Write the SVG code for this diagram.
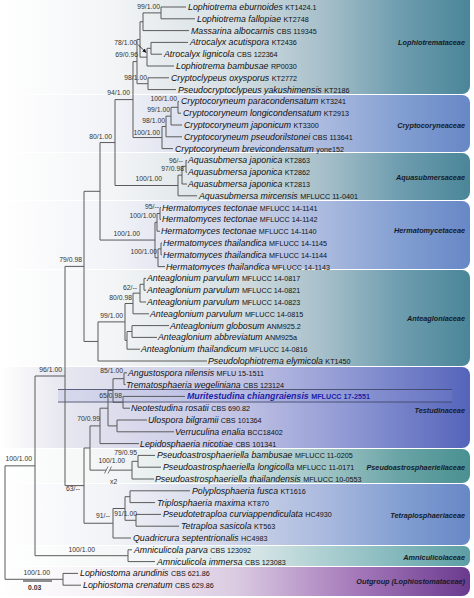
<svg xmlns="http://www.w3.org/2000/svg" width="474" height="598" viewBox="0 0 474 598">
<defs>
<linearGradient id="gTeal" gradientUnits="userSpaceOnUse" x1="0" y1="0" x2="470" y2="0">
<stop offset="0" stop-color="#ffffff"/><stop offset="0.25" stop-color="#f2f4f5"/><stop offset="0.5" stop-color="#d5dfe3"/><stop offset="0.7" stop-color="#a3bdc8"/><stop offset="0.85" stop-color="#6e9daf"/><stop offset="1" stop-color="#4a8698"/>
</linearGradient>
<linearGradient id="gBlue" gradientUnits="userSpaceOnUse" x1="0" y1="0" x2="470" y2="0">
<stop offset="0" stop-color="#ffffff"/><stop offset="0.25" stop-color="#f1f2f7"/><stop offset="0.5" stop-color="#cdd4e8"/><stop offset="0.7" stop-color="#a8b8de"/><stop offset="0.85" stop-color="#839fd2"/><stop offset="1" stop-color="#6787c6"/>
</linearGradient>
<linearGradient id="gTestu" gradientUnits="userSpaceOnUse" x1="0" y1="0" x2="470" y2="0">
<stop offset="0" stop-color="#ffffff"/><stop offset="0.12" stop-color="#e9e9f1"/><stop offset="0.5" stop-color="#c3c4e5"/><stop offset="0.75" stop-color="#8d97d3"/><stop offset="1" stop-color="#5464ba"/>
</linearGradient>
<linearGradient id="gGreen" gradientUnits="userSpaceOnUse" x1="0" y1="0" x2="470" y2="0">
<stop offset="0" stop-color="#ffffff"/><stop offset="0.25" stop-color="#f2f5f5"/><stop offset="0.5" stop-color="#d2e1e1"/><stop offset="0.7" stop-color="#9cc2c3"/><stop offset="0.85" stop-color="#6aa4a6"/><stop offset="1" stop-color="#4a9092"/>
</linearGradient>
<linearGradient id="gAmni" gradientUnits="userSpaceOnUse" x1="0" y1="0" x2="470" y2="0">
<stop offset="0" stop-color="#ffffff"/><stop offset="0.3" stop-color="#f3f6f6"/><stop offset="0.55" stop-color="#d4e4e5"/><stop offset="0.8" stop-color="#8fbfc2"/><stop offset="1" stop-color="#5c9ea4"/>
</linearGradient>
<linearGradient id="gOut" gradientUnits="userSpaceOnUse" x1="0" y1="0" x2="470" y2="0">
<stop offset="0" stop-color="#ffffff"/><stop offset="0.25" stop-color="#f3eff5"/><stop offset="0.5" stop-color="#dbcbe2"/><stop offset="0.75" stop-color="#a67bbb"/><stop offset="1" stop-color="#6b3a8f"/>
</linearGradient>
<marker id="arr" viewBox="0 0 10 10" refX="9" refY="5" markerWidth="5" markerHeight="5" orient="auto"><path d="M0,0L10,5L0,10z" fill="#111"/></marker>
<style>
.sp{font-family:"Liberation Sans",Arial,sans-serif;font-size:8.8px;font-style:italic;fill:#111}
.st{font-style:normal;font-size:7.2px}
.bs{font-family:"Liberation Sans",Arial,sans-serif;font-size:6.8px;fill:#333}
.bsr{font-family:"Liberation Sans",Arial,sans-serif;font-size:6.8px;fill:#333;text-anchor:end}
.fam{font-family:"Liberation Sans",Arial,sans-serif;font-size:7.3px;font-weight:bold;font-style:italic;fill:#141a2a;text-anchor:end}
.tree{fill:none;stroke:#5a5a5a;stroke-width:1}
.mu{font-weight:bold;fill:#1c22a8}
</style>
</defs>
<rect width="474" height="598" fill="#ffffff"/>
<g id="bands">
<rect x="-20" y="-10" width="490" height="104" rx="8" fill="url(#gTeal)"/>
<rect x="-20" y="95" width="490" height="57" rx="8" fill="url(#gBlue)"/>
<rect x="-20" y="153" width="490" height="47" rx="8" fill="url(#gTeal)"/>
<rect x="-20" y="201" width="490" height="68" rx="8" fill="url(#gBlue)"/>
<rect x="-20" y="270" width="490" height="96" rx="8" fill="url(#gTeal)"/>
<rect x="-20" y="367" width="490" height="81" rx="8" fill="url(#gTestu)"/>
<rect x="-20" y="449" width="490" height="34" rx="8" fill="url(#gGreen)"/>
<rect x="-20" y="484" width="490" height="61" rx="8" fill="url(#gBlue)"/>
<rect x="-20" y="546" width="490" height="20" rx="6" fill="url(#gAmni)"/>
<rect x="-20" y="567" width="490" height="29" rx="8" fill="url(#gOut)"/>
</g>
<g id="highlight">
<rect x="58" y="389.5" width="394" height="12.5" fill="#8a93d6" fill-opacity="0.18"/>
<path d="M58,389.5H452M58,402H452" stroke="#3a3f60" stroke-width="0.8" fill="none"/>
</g>
<g id="connectors" class="tree">
<path d="M161,7V18.8M161,7H186M161,18.8H195
M143,12.9V30.6M143,12.9H161M143,30.6H189
M151,42.4V54.2M151,42.4H188M151,54.2H162
M147,48.3V66M147,48.3H151M147,66H174
M140,21.75V57.15M140,21.75H143M140,57.15H147
M148,77.8V89.6M148,77.8H169M148,89.6H176
M137,39.45V83.7M137,39.45H140M137,83.7H148
M178,101.4V113.2M178,101.4H179M178,113.2H181
M171,107.3V125M171,107.3H178M171,125H182
M166,116.15V136.8M166,116.15H171M166,136.8H182
M162,126.5V148.6M162,126.5H166M162,148.6H173
M133,61.6V137.55M133,61.6H137M133,137.55H162
M186,160.4V172.2M186,160.4H187M186,172.2H187
M182,166.3V184M182,166.3H186M182,184H187
M178,175.15V195.8M178,175.15H182M178,195.8H197
M115,99.6V185.5M115,99.6H133M115,185.5H178
M160,207.6V219.4M160,207.6H161M160,219.4H161
M157,213.5V231.2M157,213.5H160M157,231.2H160
M161,243V254.8M161,243H162M161,254.8H162
M158,248.9V266.6M158,248.9H161M158,266.6H165
M155,222.35V257.75M155,222.35H157M155,257.75H158
M100,142.55V240.05M100,142.55H115M100,240.05H155
M144,278.4V290.2M144,278.4H146M144,290.2H146
M140,284.3V302M140,284.3H144M140,302H146
M133,293.15V313.8M133,293.15H140M133,313.8H149
M132,325.6V337.4M132,325.6H169M132,337.4H157
M127,331.5V349.2M127,331.5H132M127,349.2H140
M125,303.5V340.35M125,303.5H133M125,340.35H127
M98,321.9V361M98,321.9H125M98,361H207
M84,191.3V341.45M84,191.3H100M84,341.45H98
M124,372.8V384.6M124,372.8H127M124,384.6H125.5
M123,396.4V408.2M123,396.4H185M123,408.2H130
M113,378.7V402.3M113,378.7H124M113,402.3H123
M117,420V431.8M117,420H147M117,431.8H174
M108,390.5V425.9M108,390.5H113M108,425.9H117
M100,408.2V443.6M100,408.2H108M100,443.6H139
M138,455.4V467.2M138,455.4H155M138,467.2H161
M132,461.3V479M132,461.3H138M132,479H154
M90,425.9V470.15M90,425.9H100M90,470.15H106M110,470.15H132
M130,490.8V502.6M130,490.8H190M130,502.6H155
M136,514.4V526.2M136,514.4H161M136,526.2H179
M125,496.7V520.3M125,496.7H130M125,520.3H136
M113,508.5V538M113,508.5H125M113,538H131
M84,448V523.25M84,448H90M84,523.25H113
M65,266.4V485.6M65,266.4H84M65,485.6H84
M128,549.8V561.6M128,549.8H132M128,561.6H155
M35,376V555.7M35,376H65M35,555.7H128
M63,573.4V585.2M63,573.4H78M63,585.2H81
M5,465.85V579.3M5,465.85H35M5,579.3H63"/>
<path d="M104.5,473.5L108,466.5M108,473.5L111.5,466.5" stroke-width="0.8"/>
<path d="M138,44.5L146,52.5" stroke="#111" stroke-width="0.8" marker-end="url(#arr)"/>
<path d="M23,581H52" stroke="#222" stroke-width="1"/>
</g>
<g id="support">
<text class="bsr" x="160" y="9">99/1.00</text>
<text class="bsr" x="137" y="45">78/1.00</text>
<text class="bsr" x="138" y="57">69/0.96</text>
<text class="bsr" x="147" y="80">98/1.00</text>
<text class="bsr" x="130" y="95">94/1.00</text>
<text class="bsr" x="177" y="101">100/1.00</text>
<text class="bsr" x="170" y="112">99/1.00</text>
<text class="bsr" x="165" y="123">98/1.00</text>
<text class="bsr" x="160" y="135">100/1.00</text>
<text class="bsr" x="112" y="139">80/1.00</text>
<text class="bsr" x="183" y="163">96/--</text>
<text class="bsr" x="184" y="171">97/0.98</text>
<text class="bsr" x="162" y="181">100/1.00</text>
<text class="bsr" x="159" y="209">95/--</text>
<text class="bsr" x="156" y="218">100/1.00</text>
<text class="bsr" x="140" y="236">100/1.00</text>
<text class="bsr" x="157" y="254">100/1.00</text>
<text class="bsr" x="82" y="262">79/0.98</text>
<text class="bsr" x="137" y="290">62/--</text>
<text class="bsr" x="132" y="300">80/0.98</text>
<text class="bsr" x="123" y="318">99/1.00</text>
<text class="bsr" x="62" y="372">96/1.00</text>
<text class="bsr" x="123" y="373">85/1.00</text>
<text class="bsr" x="122" y="398">65/0.98</text>
<text class="bsr" x="100" y="421">70/0.99</text>
<text class="bsr" x="137" y="455">79/0.95</text>
<text class="bsr" x="32" y="461">100/1.00</text>
<text class="bsr" x="125" y="463">100/1.00</text>
<text class="bs" x="110" y="484">x2</text>
<text class="bs" x="66" y="491">63/--</text>
<text class="bsr" x="137" y="516">91/1.00</text>
<text class="bsr" x="110" y="518">91/--</text>
<text class="bsr" x="95" y="552">100/1.00</text>
<text class="bsr" x="50" y="575">100/1.00</text>
<text class="bs" x="28" y="590" font-weight="bold" fill="#222">0.03</text>
</g>
<g id="tips">
<text class="sp" x="188" y="10">Lophiotrema eburnoides <tspan class="st">KT1424.1</tspan></text>
<text class="sp" x="197" y="21.8">Lophiotrema fallopiae <tspan class="st">KT2748</tspan></text>
<text class="sp" x="191" y="33.6">Massarina albocarnis <tspan class="st">CBS 119345</tspan></text>
<text class="sp" x="190" y="45.4">Atrocalyx acutispora <tspan class="st">KT2436</tspan></text>
<text class="sp" x="164" y="57.2">Atrocalyx lignicola <tspan class="st">CBS 122364</tspan></text>
<text class="sp" x="176" y="69">Lophiotrema bambusae <tspan class="st">RP0030</tspan></text>
<text class="sp" x="171" y="80.8">Cryptoclypeus oxysporus <tspan class="st">KT2772</tspan></text>
<text class="sp" x="178" y="92.6">Pseudocryptoclypeus yakushimensis <tspan class="st">KT2186</tspan></text>
<text class="sp" x="181" y="104.4">Cryptocoryneum paracondensatum <tspan class="st">KT3241</tspan></text>
<text class="sp" x="183" y="116.2">Cryptocoryneum longicondensatum <tspan class="st">KT2913</tspan></text>
<text class="sp" x="184" y="128">Cryptocoryneum japonicum <tspan class="st">KT3300</tspan></text>
<text class="sp" x="184" y="139.8">Cryptocoryneum pseudorilstonei <tspan class="st">CBS 113641</tspan></text>
<text class="sp" x="175" y="151.6">Cryptocoryneum brevicondensatum <tspan class="st">yone152</tspan></text>
<text class="sp" x="188" y="163.4">Aquasubmersa japonica <tspan class="st">KT2863</tspan></text>
<text class="sp" x="188" y="175.2">Aquasubmersa japonica <tspan class="st">KT2862</tspan></text>
<text class="sp" x="188" y="187">Aquasubmersa japonica <tspan class="st">KT2813</tspan></text>
<text class="sp" x="199" y="198.8">Aquasubmersa mircensis <tspan class="st">MFLUCC 11-0401</tspan></text>
<text class="sp" x="162" y="210.6">Hermatomyces tectonae <tspan class="st">MFLUCC 14-1141</tspan></text>
<text class="sp" x="162" y="222.4">Hermatomyces tectonae <tspan class="st">MFLUCC 14-1142</tspan></text>
<text class="sp" x="161" y="234.2">Hermatomyces tectonae <tspan class="st">MFLUCC 14-1140</tspan></text>
<text class="sp" x="163" y="246">Hermatomyces thailandica <tspan class="st">MFLUCC 14-1145</tspan></text>
<text class="sp" x="163" y="257.8">Hermatomyces thailandica <tspan class="st">MFLUCC 14-1144</tspan></text>
<text class="sp" x="166" y="269.6">Hermatomyces thailandica <tspan class="st">MFLUCC 14-1143</tspan></text>
<text class="sp" x="147" y="281.4">Anteaglonium parvulum <tspan class="st">MFLUCC 14-0817</tspan></text>
<text class="sp" x="147" y="293.2">Anteaglonium parvulum <tspan class="st">MFLUCC 14-0821</tspan></text>
<text class="sp" x="147" y="305">Anteaglonium parvulum <tspan class="st">MFLUCC 14-0823</tspan></text>
<text class="sp" x="150" y="316.8">Anteaglonium parvulum <tspan class="st">MFLUCC 14-0815</tspan></text>
<text class="sp" x="170" y="328.6">Anteaglonium globosum <tspan class="st">ANM925.2</tspan></text>
<text class="sp" x="158" y="340.4">Anteaglonium abbreviatum <tspan class="st">ANM925a</tspan></text>
<text class="sp" x="141" y="352.2">Anteaglonium thailandicum <tspan class="st">MFLUCC 14-0816</tspan></text>
<text class="sp" x="208" y="364">Pseudolophiotrema elymicola <tspan class="st">KT1450</tspan></text>
<text class="sp" x="128" y="375.8">Angustospora nilensis <tspan class="st">MFLU 15-1511</tspan></text>
<text class="sp" x="126" y="387.6">Trematosphaeria wegeliniana <tspan class="st">CBS 123124</tspan></text>
<text class="sp mu" x="187" y="399.4">Muritestudina chiangraiensis <tspan class="st">MFLUCC 17-2551</tspan></text>
<text class="sp" x="131" y="411.2">Neotestudina rosatii <tspan class="st">CBS 690.82</tspan></text>
<text class="sp" x="148" y="423">Ulospora bilgramii <tspan class="st">CBS 101364</tspan></text>
<text class="sp" x="175" y="434.8">Verruculina enalia <tspan class="st">BCC18402</tspan></text>
<text class="sp" x="140" y="446.6">Lepidosphaeria nicotiae <tspan class="st">CBS 101341</tspan></text>
<text class="sp" x="157" y="458.4">Pseudoastrosphaeriella bambusae <tspan class="st">MFLUCC 11-0205</tspan></text>
<text class="sp" x="163" y="470.2">Pseudoastrosphaeriella longicolla <tspan class="st">MFLUCC 11-0171</tspan></text>
<text class="sp" x="155" y="482">Pseudoastrosphaeriella thailandensis <tspan class="st">MFLUCC 10-0553</tspan></text>
<text class="sp" x="192" y="493.8">Polyplosphaeria fusca <tspan class="st">KT1616</tspan></text>
<text class="sp" x="157" y="505.6">Triplosphaeria maxima <tspan class="st">KT870</tspan></text>
<text class="sp" x="163" y="517.4">Pseudotetraploa curviappendiculata <tspan class="st">HC4930</tspan></text>
<text class="sp" x="181" y="529.2">Tetraploa sasicola <tspan class="st">KT563</tspan></text>
<text class="sp" x="133" y="541">Quadricrura septentrionalis <tspan class="st">HC4983</tspan></text>
<text class="sp" x="134" y="552.8">Amniculicola parva <tspan class="st">CBS 123092</tspan></text>
<text class="sp" x="157" y="564.6">Amniculicola immersa <tspan class="st">CBS 123083</tspan></text>
<text class="sp" x="80" y="576.4">Lophiostoma arundinis <tspan class="st">CBS 621.86</tspan></text>
<text class="sp" x="83" y="588.2">Lophiostoma crenatum <tspan class="st">CBS 629.86</tspan></text>
</g>
<g id="families">
<text class="fam" x="465" y="45">Lophiotremataceae</text>
<text class="fam" x="465" y="128">Cryptocoryneaceae</text>
<text class="fam" x="465" y="180">Aquasubmersaceae</text>
<text class="fam" x="465" y="233">Hermatomycetaceae</text>
<text class="fam" x="465" y="321">Anteagloniaceae</text>
<text class="fam" x="465" y="413">Testudinaceae</text>
<text class="fam" x="465" y="470">Pseudoastrosphaeriellaceae</text>
<text class="fam" x="465" y="518">Tetraplosphaeriaceae</text>
<text class="fam" x="465" y="560">Amniculicolaceae</text>
<text class="fam" x="465" y="584" font-style="normal">Outgroup (<tspan font-style="italic">Lophiostomataceae</tspan>)</text>
</g>
</svg>
